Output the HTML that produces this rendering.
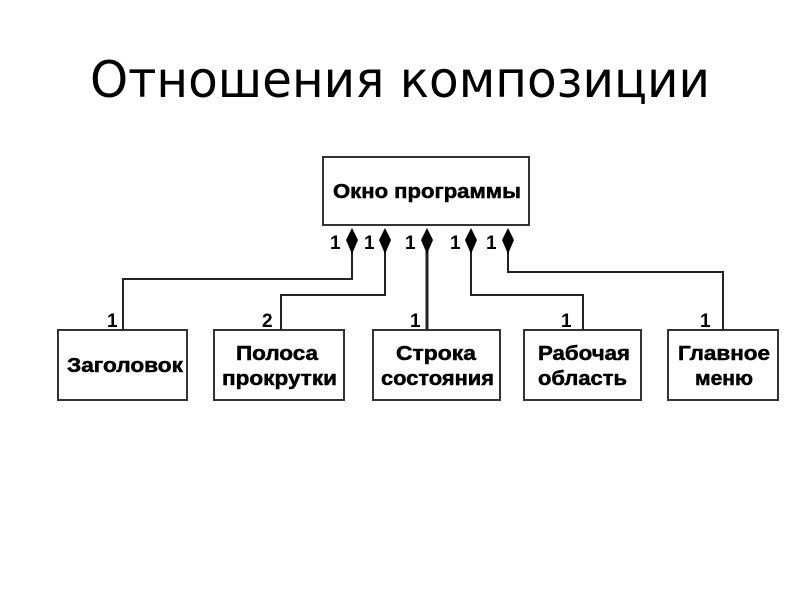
<!DOCTYPE html>
<html><head><meta charset="utf-8"><style>
html,body{margin:0;padding:0;background:#fff;}
svg{display:block;}
</style></head><body>
<svg width="800" height="600" xmlns="http://www.w3.org/2000/svg">
<text x="90" y="97" font-family="DejaVu Sans, sans-serif" font-size="50" textLength="620" lengthAdjust="spacingAndGlyphs" fill="#000">Отношения композиции</text>
<g fill="#fff" stroke="#333" stroke-width="2">
<rect x="323" y="157" width="206" height="68"/>
<rect x="58" y="330" width="129" height="70"/>
<rect x="214" y="330" width="130" height="70"/>
<rect x="373" y="330" width="127" height="70"/>
<rect x="524" y="330" width="117" height="70"/>
<rect x="668" y="330" width="110" height="70"/>
</g>
<g fill="none" stroke="#222" stroke-width="2">
<polyline points="352,250 352,279 123,279 123,330"/>
<polyline points="385,250 385,295 281,295 281,330"/>
<polyline points="427,250 427,330" stroke-width="3"/>
<polyline points="471,250 471,295 583,295 583,330"/>
<polyline points="508,250 508,272 723,272 723,330"/>
</g>
<g fill="#000">
<polygon points="352,228 358,240 352,254 346,240"/>
<polygon points="385,228 391,240 385,254 379,240"/>
<polygon points="427,228 433,240 427,254 421,240"/>
<polygon points="471,228 477,240 471,254 465,240"/>
<polygon points="508,228 514,240 508,254 502,240"/>
</g>
<g font-family="Liberation Sans, sans-serif" font-weight="bold" font-size="19" fill="#000">
<text x="330" y="249">1</text>
<text x="364" y="249">1</text>
<text x="405" y="249">1</text>
<text x="450" y="249">1</text>
<text x="486" y="249">1</text>
<text x="107" y="327">1</text>
<text x="262" y="327">2</text>
<text x="410" y="327">1</text>
<text x="561" y="327">1</text>
<text x="700" y="327">1</text>
</g>
<g font-family="Liberation Sans, sans-serif" font-weight="bold" font-size="20" fill="#000" stroke="#000" stroke-width="0.5">
<text x="333" y="198" textLength="188" lengthAdjust="spacingAndGlyphs">Окно программы</text>
<text x="67" y="372" textLength="116" lengthAdjust="spacingAndGlyphs">Заголовок</text>
<text x="236" y="360" textLength="82" lengthAdjust="spacingAndGlyphs">Полоса</text>
<text x="222" y="385" textLength="115" lengthAdjust="spacingAndGlyphs">прокрутки</text>
<text x="396" y="360" textLength="80" lengthAdjust="spacingAndGlyphs">Строка</text>
<text x="381" y="385" textLength="113" lengthAdjust="spacingAndGlyphs">состояния</text>
<text x="538" y="360" textLength="92" lengthAdjust="spacingAndGlyphs">Рабочая</text>
<text x="538" y="385" textLength="89" lengthAdjust="spacingAndGlyphs">область</text>
<text x="678" y="360" textLength="92" lengthAdjust="spacingAndGlyphs">Главное</text>
<text x="695" y="385" textLength="58" lengthAdjust="spacingAndGlyphs">меню</text>
</g>
</svg>
</body></html>
